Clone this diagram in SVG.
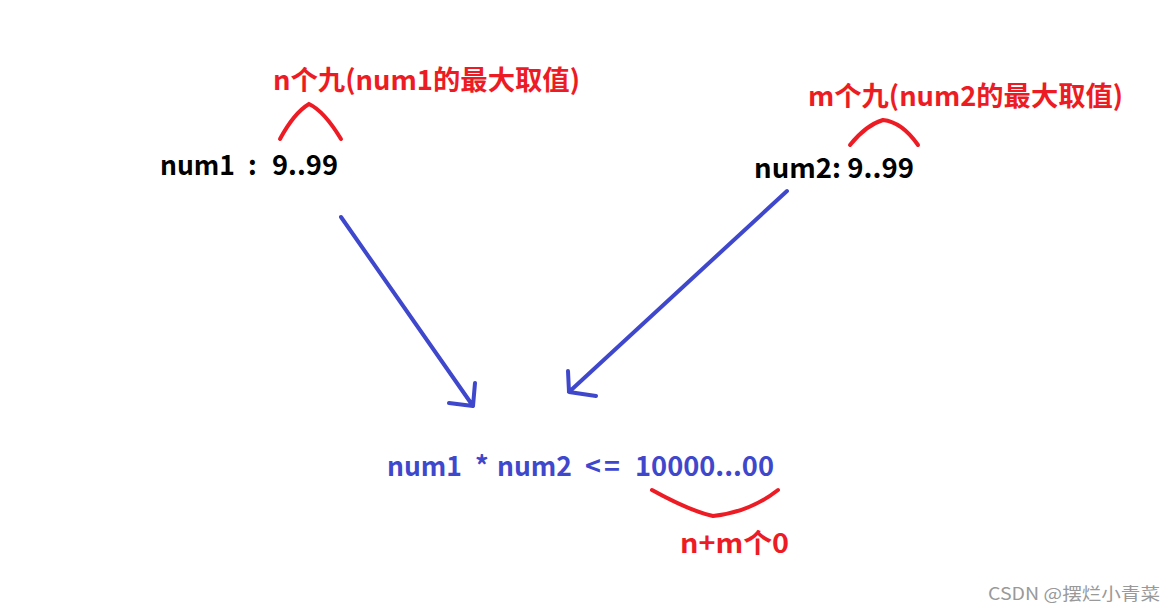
<svg xmlns="http://www.w3.org/2000/svg" width="1175" height="612" viewBox="0 0 1175 612">
<style>
.t{font-family:"Noto Sans CJK SC","Noto Sans",sans-serif;font-weight:bold;font-size:27px;}
.red{fill:#ed1c24;}
.blk{fill:#000;}
.blu{fill:#3f48cc;}
.arc{fill:none;stroke:#ed1c24;stroke-width:4;stroke-linecap:round;}
.arr{fill:none;stroke:#3f48cc;stroke-width:4;stroke-linecap:round;stroke-linejoin:round;}
.wm{font-family:"Noto Sans CJK SC","Liberation Sans",sans-serif;fill:#999;font-size:17px;}
</style>
<rect width="1175" height="612" fill="#fff"/>
<g id="num1">
<text class="t blk" y="175"><tspan x="160" textLength="75" lengthAdjust="spacingAndGlyphs">num1</tspan><tspan x="248">:</tspan><tspan x="272" textLength="66" lengthAdjust="spacingAndGlyphs">9..99</tspan></text>
<text class="t red" x="273" y="90" textLength="307" lengthAdjust="spacingAndGlyphs">n个九(num1的最大取值)</text>
<path class="arc" d="M280,139 Q294,113 309,104 Q324,111 341,139"/>
</g>
<g id="num2">
<text class="t blk" x="754" y="178" textLength="160" lengthAdjust="spacingAndGlyphs">num2: 9..99</text>
<text class="t red" x="808" y="106" textLength="315" lengthAdjust="spacingAndGlyphs">m个九(num2的最大取值)</text>
<path class="arc" d="M850,145 Q866,125 883,120 Q902,122 918,145"/>
</g>
<g id="product">
<text class="t blu" y="476"><tspan x="387" textLength="75" lengthAdjust="spacingAndGlyphs">num1</tspan><tspan x="475">*</tspan><tspan x="497" textLength="75" lengthAdjust="spacingAndGlyphs">num2</tspan><tspan x="585">&lt;</tspan><tspan x="604">=</tspan><tspan x="635" textLength="139" lengthAdjust="spacingAndGlyphs">10000...00</tspan></text>
<path class="arc" d="M652,490 Q690,511 713,516 Q750,512 778,490"/>
<text class="t red" x="680" y="553" textLength="109" lengthAdjust="spacingAndGlyphs">n+m个0</text>
</g>
<g id="connectors">
<path class="arr" d="M341,217 L473,406 M475,383 L473,406 L449,403"/>
<path class="arr" d="M787,191 L569,392 M568,371 L569,392 L596,396"/>
</g>
<text class="wm" x="988" y="600" textLength="172" lengthAdjust="spacingAndGlyphs">CSDN @摆烂小青菜</text>
</svg>
